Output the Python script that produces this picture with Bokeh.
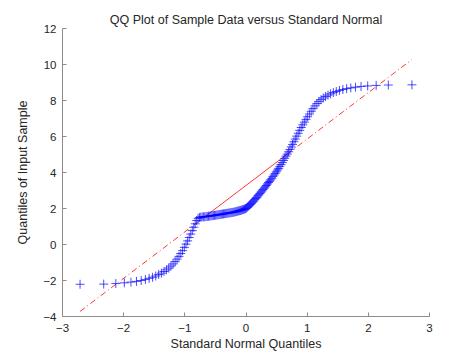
from statistics import NormalDist
import numpy as np
from bokeh.plotting import figure
from bokeh.models import FixedTicker, Range1d
from bokeh.embed import file_html
from bokeh.resources import INLINE

sample_low = [-2.21, -2.20, -2.17, -2.13, -2.09, -2.05, -2.00, -1.94, -1.88, -1.82,
              -1.75, -1.67, -1.59, -1.50, -1.41, -1.31, -1.20, -1.08, -0.95, -0.81,
              -0.66, -0.50, -0.34, -0.16, 0.02, 0.20, 0.39, 0.58, 0.77, 0.96,
              1.15, 1.33, 1.45, 1.50, 1.52, 1.53, 1.535, 1.54]
sample_plateau = [1.55, 1.56, 1.57, 1.58, 1.59, 1.60, 1.61, 1.62, 1.63, 1.64,
                  1.65, 1.66, 1.67, 1.68, 1.69, 1.70, 1.71, 1.72, 1.73, 1.74,
                  1.75, 1.76, 1.77, 1.78, 1.79, 1.80, 1.82, 1.83, 1.85, 1.86,
                  1.88, 1.89, 1.91, 1.93, 1.95, 1.97, 1.99]
sample_rise = [2.03, 2.08, 2.13, 2.19, 2.24, 2.29, 2.36, 2.42, 2.49, 2.56,
               2.62, 2.70, 2.76, 2.84, 2.91, 2.98, 3.05, 3.13, 3.20, 3.28,
               3.36, 3.44, 3.51, 3.59, 3.68, 3.77, 3.86, 3.95, 4.04, 4.14,
               4.23, 4.34, 4.44, 4.55, 4.67, 4.79, 4.91]
sample_high = [5.02, 5.15, 5.28, 5.42, 5.56, 5.71, 5.86, 6.02, 6.18, 6.34,
               6.50, 6.65, 6.80, 6.95, 7.10, 7.25, 7.40, 7.55, 7.70, 7.83,
               7.95, 8.05, 8.14, 8.22, 8.30, 8.37, 8.44, 8.50, 8.56, 8.61,
               8.66, 8.70, 8.74, 8.78, 8.81, 8.84, 8.86, 8.87]

x_ticks = [-3, -2, -1, 0, 1, 2, 3]
y_ticks = [-4, -2, 0, 2, 4, 6, 8, 10, 12]

y = np.array(sample_low + sample_plateau + sample_rise + sample_high)
n = len(y)
nd = NormalDist()
x = np.array([nd.inv_cdf((i - 0.5) / n) for i in range(1, n + 1)])

# Reference line through first and third quartiles (MATLAB qqplot style)
def prct(p):
    return float(np.interp(n * p - 0.5, np.arange(n), y))
q1y, q3y = prct(0.25), prct(0.75)
q1x, q3x = nd.inv_cdf(0.25), nd.inv_cdf(0.75)
slope = (q3y - q1y) / (q3x - q1x)
icpt = q1y - slope * q1x
line_y = lambda xx: icpt + slope * xx

FONT = "Liberation Sans"
p = figure(width=474, height=355, output_backend="svg", toolbar_location=None,
           x_range=Range1d(-3, 3), y_range=Range1d(-4, 12),
           min_border_left=62, min_border_right=45, min_border_top=28,
           min_border_bottom=39)
p.title.text = "QQ Plot of Sample Data versus Standard Normal"
p.title.align = "center"
p.title.text_font = FONT
p.title.text_font_size = "12.5px"
p.title.text_font_style = "normal"
p.title.text_color = "#262626"
p.title.offset = 0
p.title.standoff = 4

p.outline_line_color = None
p.grid.grid_line_color = None

# dash-dot extensions and solid middle
p.line([x[0], q1x], [line_y(x[0]), line_y(q1x)], line_color="red",
       line_width=0.8, line_dash="6 3 1 3")
p.line([q3x, x[-1]], [line_y(q3x), line_y(x[-1])], line_color="red",
       line_width=0.8, line_dash="6 3 1 3")
p.line([q1x, q3x], [line_y(q1x), line_y(q3x)], line_color="red", line_width=0.8)

p.scatter(x, y, marker="cross", size=9, line_color="#0000ff", line_width=1,
          line_alpha=0.7)

for ax in (p.xaxis[0], p.yaxis[0]):
    ax.axis_line_color = "#8c8c8c"
    ax.major_tick_line_color = "#8c8c8c"
    ax.major_tick_in = 4
    ax.major_tick_out = 0
    ax.minor_tick_line_color = None
    ax.major_label_text_font = FONT
    ax.major_label_text_font_size = "11.5px"
    ax.major_label_text_color = "#262626"
    ax.axis_label_text_font = FONT
    ax.axis_label_text_font_size = "12.5px"
    ax.axis_label_text_font_style = "normal"
    ax.axis_label_text_color = "#262626"

p.xaxis.ticker = FixedTicker(ticks=x_ticks)
p.yaxis.ticker = FixedTicker(ticks=y_ticks)
p.xaxis.axis_label = "Standard Normal Quantiles"
p.yaxis.axis_label = "Quantiles of Input Sample"
p.xaxis.major_label_standoff = 7
p.xaxis.axis_label_standoff = 2
p.yaxis.major_label_standoff = 6
p.yaxis.axis_label_standoff = 10

open("out.html", "w").write(file_html(p, INLINE))
